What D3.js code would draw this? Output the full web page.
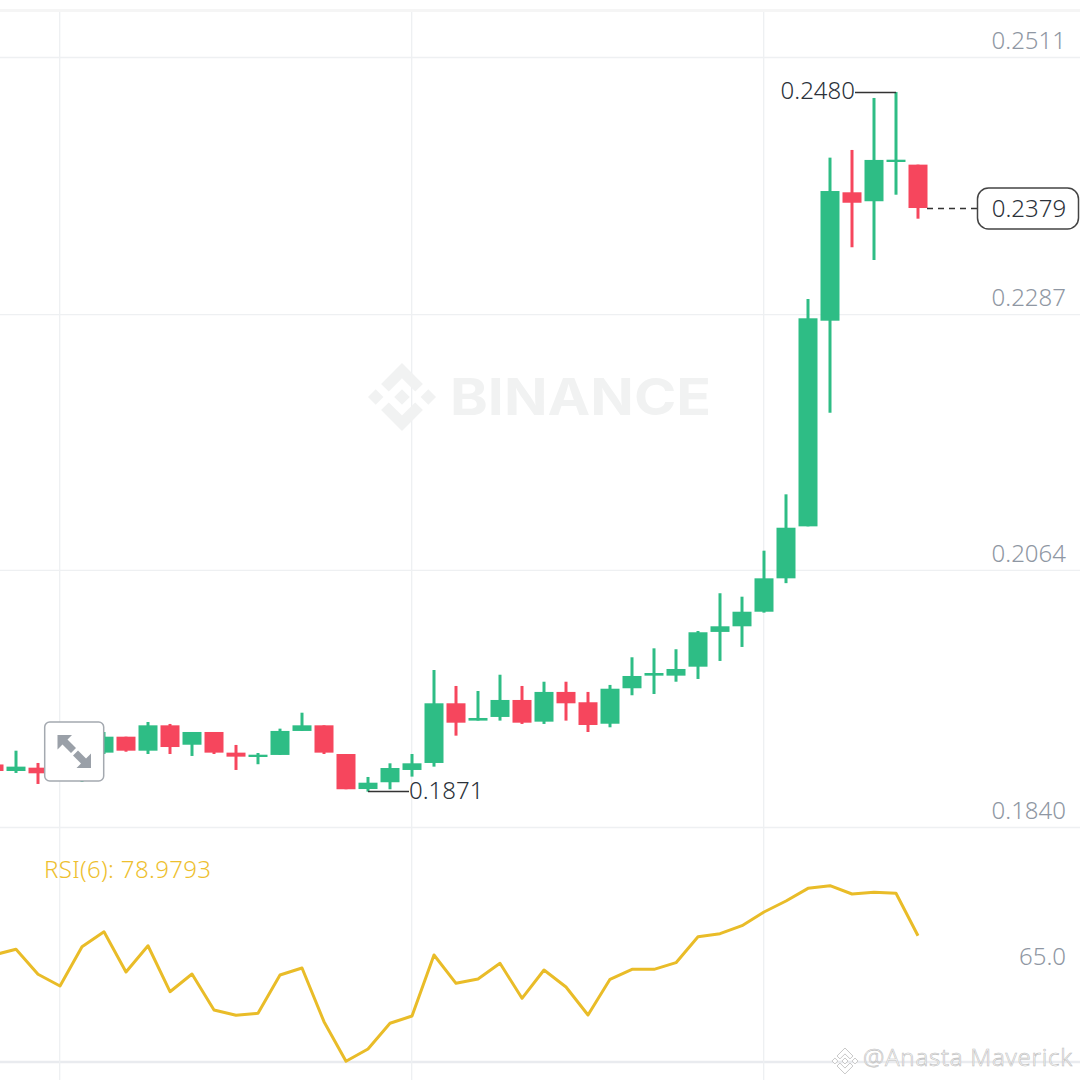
<!DOCTYPE html>
<html>
<head>
<meta charset="utf-8">
<script src="https://cdn.jsdelivr.net/npm/d3@7"></script>
<style>
html, body { margin: 0; padding: 0; background: #fff; }
svg { display: block; }
text { font-family: "Noto Sans", sans-serif; font-weight: 300; }
</style>
</head>
<body>
<svg id="chart" width="1080" height="1080"></svg>
<script>
// candles, oldest first (first one is cut off by the left edge)
var opens = [0.18945,0.18888,0.18917,0.18862,0.18879,0.19048,0.19187,0.19065,0.19286,0.19117,0.19228,0.19048,0.19010,0.19028,0.19237,0.19286,0.19036,0.18731,0.18790,0.18897,0.18958,0.19478,0.19327,0.19359,0.19507,0.19318,0.19577,0.19487,0.19300,0.19609,0.19719,0.19719,0.19797,0.20100,0.20149,0.20276,0.20567,0.21020,0.22812,0.23931,0.23853,0.24195,0.24172];
var highs = [0.18945,0.19065,0.18958,0.18940,0.19080,0.19228,0.19187,0.19315,0.19298,0.19228,0.19228,0.19115,0.19045,0.19257,0.19396,0.19286,0.19036,0.18836,0.18955,0.19036,0.19768,0.19629,0.19585,0.19727,0.19629,0.19666,0.19666,0.19577,0.19638,0.19879,0.19957,0.19949,0.20108,0.20437,0.20407,0.20808,0.21299,0.23001,0.24233,0.24300,0.24753,0.24805,0.24172];
var lows = [0.18888,0.18871,0.18775,0.18818,0.18792,0.19036,0.19056,0.19036,0.19036,0.19019,0.19036,0.18897,0.18947,0.19028,0.19237,0.19036,0.18729,0.18708,0.18729,0.18839,0.18926,0.19196,0.19327,0.19327,0.19298,0.19298,0.19327,0.19228,0.19269,0.19548,0.19559,0.19666,0.19690,0.19847,0.19969,0.20268,0.20525,0.21020,0.22010,0.23452,0.23341,0.23910,0.23701];
var closes = [0.18888,0.18926,0.18868,0.18897,0.19054,0.19187,0.19065,0.19286,0.19097,0.19228,0.19048,0.19013,0.19030,0.19237,0.19286,0.19048,0.18729,0.18786,0.18914,0.18955,0.19478,0.19309,0.19350,0.19507,0.19309,0.19577,0.19478,0.19289,0.19605,0.19716,0.19742,0.19777,0.20097,0.20149,0.20276,0.20567,0.21008,0.22833,0.23942,0.23840,0.24213,0.24215,0.23794];
var rsi = [65.29,66.10,62.53,60.86,66.47,68.61,62.86,66.61,60.04,62.57,57.43,56.67,56.96,62.43,63.43,55.76,50.10,51.86,55.53,56.57,65.29,61.24,61.86,64.10,59.10,63.14,60.71,56.71,61.81,63.24,63.24,64.19,67.90,68.33,69.47,71.43,73.00,74.81,75.19,74.00,74.24,74.10,68.04];

var priceTicks = [0.2511, 0.2287, 0.2064, 0.1840];
var rsiTicks = [65];
var timeGrid = [3, 19, 35];   // candle index of the vertical grid lines
var highLabel = 0.2480, lowLabel = 0.1871, lastPrice = 0.2379;
var rsiLabel = "RSI(6): 78.9793";

var green = "#2ebd85", red = "#f6465d", grid = "#eef0f2", tickGrey = "#8f97a3", dark = "#2b3139";
var logoPaths = [
	"M38.73 53.2L63.3 28.63 87.88 53.21 102.17 38.91 63.3 0 24.43 38.91z",
	"M0 63.31l14.3-14.3 14.29 14.3-14.3 14.3z",
	"M38.73 73.41L63.3 97.98 87.88 73.4l14.3 14.29-38.88 38.91-38.87-38.88z",
	"M98.01 63.31l14.3-14.3 14.3 14.3-14.3 14.3z",
	"M77.83 63.3L63.3 48.78 48.78 63.31 63.3 77.83z"
];

var svg = d3.select("#chart");
var x = d3.scaleLinear().domain([0, 42]).range([-6, 918]);
var y = d3.scaleLinear().domain([0.1840, 0.2511]).range([827, 57]);
var yRsi = d3.scaleLinear().domain([50, 65]).range([1062, 957]);

// frame line at the top, bottom line of the rsi pane
svg.append("line").attr("x1", 0).attr("x2", 1080).attr("y1", 10.5).attr("y2", 10.5)
	.attr("stroke", "#f5f5f5").attr("stroke-width", 3);
svg.append("line").attr("x1", 0).attr("x2", 1080).attr("y1", yRsi(50)).attr("y2", yRsi(50))
	.attr("stroke", "#e9ebef").attr("stroke-width", 2.5);

// vertical grid
svg.selectAll(".vgrid").data(timeGrid).enter().append("line")
	.attr("class", "vgrid")
	.attr("x1", function(d) {return x(d) - 0.3}).attr("x2", function(d) {return x(d) - 0.3})
	.attr("y1", 12).attr("y2", 1080)
	.attr("stroke", grid).attr("stroke-width", 1.3);

// watermark
var wm = svg.append("g").attr("transform", "translate(368,363) scale(0.537)");
wm.selectAll("path").data(logoPaths).enter().append("path").attr("d", function(d) {return d}).attr("fill", "#f1f2f2");
svg.append("text").attr("x", 450).attr("y", 415).attr("textLength", 261).attr("lengthAdjust", "spacingAndGlyphs")
	.style("font-family", "Inter").style("font-size", "51px").style("font-weight", 700)
	.attr("fill", "#f1f2f2").text("BINANCE");

// price axis: grid lines plus labels sitting above them
var priceAxis = d3.axisRight(y).tickValues(priceTicks).tickSize(-1080)
	.tickFormat(function(d) {return d.toFixed(4)});
var gPrice = svg.append("g").attr("transform", "translate(1080,0)").call(priceAxis);
gPrice.select(".domain").remove();
gPrice.selectAll(".tick line").attr("stroke", grid).attr("stroke-width", 1.3);
gPrice.selectAll(".tick text").attr("x", -14).attr("y", -17).attr("dy", "0.35em")
	.attr("text-anchor", "end").attr("fill", tickGrey)
	.style("font-family", "'Noto Sans'").style("font-size", "24px").style("font-weight", 300);

// candles
var candles = svg.selectAll(".candle").data(opens).enter().append("g").attr("class", "candle");
function col(i) {return closes[i] >= opens[i] ? green : red}
candles.append("line")
	.attr("x1", function(d, i) {return x(i)}).attr("x2", function(d, i) {return x(i)})
	.attr("y1", function(d, i) {return y(highs[i])}).attr("y2", function(d, i) {return y(lows[i])})
	.attr("stroke", function(d, i) {return col(i)}).attr("stroke-width", 3);
candles.append("rect")
	.attr("x", function(d, i) {return x(i) - 9.5}).attr("width", 19)
	.attr("y", function(d, i) {return y(Math.max(opens[i], closes[i]))})
	.attr("height", function(d, i) {return Math.abs(y(opens[i]) - y(closes[i]))})
	.attr("fill", function(d, i) {return col(i)});

// high / low / last markers
var iHigh = highs.indexOf(d3.max(highs)), iLow = lows.indexOf(d3.min(lows));
svg.append("line").attr("x1", 855).attr("x2", x(iHigh)).attr("y1", y(highLabel)).attr("y2", y(highLabel))
	.attr("stroke", "#333").attr("stroke-width", 1.5);
svg.append("text").attr("x", 855).attr("y", y(highLabel) - 2).attr("dy", "0.35em").attr("text-anchor", "end")
	.attr("fill", dark).style("font-size", "24px").text(highLabel.toFixed(4));
svg.append("line").attr("x1", x(iLow)).attr("x2", 409).attr("y1", y(lowLabel)).attr("y2", y(lowLabel))
	.attr("stroke", "#333").attr("stroke-width", 1.5);
svg.append("text").attr("x", 409).attr("y", y(lowLabel) - 1).attr("dy", "0.35em")
	.attr("fill", dark).style("font-size", "24px").text(lowLabel.toFixed(4));
svg.append("line").attr("x1", x(42) + 9).attr("x2", 978).attr("y1", y(lastPrice)).attr("y2", y(lastPrice))
	.attr("stroke", "#333").attr("stroke-width", 1.4).attr("stroke-dasharray", "6 5");
svg.append("rect").attr("x", 977.5).attr("y", y(lastPrice) - 20.5).attr("width", 101).attr("height", 41).attr("rx", 11)
	.attr("fill", "#fff").attr("stroke", "#444").attr("stroke-width", 1.5);
svg.append("text").attr("x", 1029).attr("y", y(lastPrice)).attr("dy", "0.35em").attr("text-anchor", "middle")
	.attr("fill", dark).style("font-size", "24px").text(lastPrice.toFixed(4));

// rsi pane
var rsiLine = d3.line().x(function(d, i) {return x(i)}).y(function(d) {return yRsi(d)});
svg.append("path").datum(rsi).attr("d", rsiLine).attr("fill", "none")
	.attr("stroke", "#e9bc28").attr("stroke-width", 3).attr("stroke-linejoin", "round");
svg.append("text").attr("x", 44).attr("y", 878).attr("textLength", 167).attr("fill", "#eebf2f").style("font-size", "24px").text(rsiLabel);
svg.selectAll(".rsi-tick").data(rsiTicks).enter().append("text").attr("class", "rsi-tick")
	.attr("x", 1066).attr("y", function(d) {return yRsi(d)}).attr("dy", "0.35em").attr("text-anchor", "end")
	.attr("fill", tickGrey).style("font-size", "24px").text(function(d) {return d.toFixed(1)});

// expand button
svg.append("rect").attr("x", 44.7).attr("y", 722).attr("width", 59).attr("height", 59).attr("rx", 5)
	.attr("fill", "#fff").attr("stroke", "#a4a9b0").attr("stroke-width", 1.5);
var icon = svg.append("g").attr("fill", "#9aa0a8");
icon.append("path").attr("d", "M57.5 735H72L67.5 739.5 76 748 71 753 62.5 744.5 57.5 749.5z");
icon.append("path").attr("d", "M91 768H76.5L81 763.5 73 755.5 78 750.5 86 758.5 91 753.5z");

// user watermark, embossed look
var mark = svg.append("g").attr("transform", "translate(832,1048) scale(0.205)");
mark.selectAll("path").data(logoPaths).enter().append("path").attr("d", function(d) {return d})
	.attr("fill", "#fff").attr("stroke", "#bbb").attr("stroke-width", 4);
svg.append("text").attr("x", 863).attr("y", 1066).attr("textLength", 209)
	.attr("fill", "#fff").attr("stroke", "#bdbdbd").attr("stroke-width", 0.6)
	.style("font-size", "24px").text("@Anasta Maverick");
</script>
</body>
</html>
